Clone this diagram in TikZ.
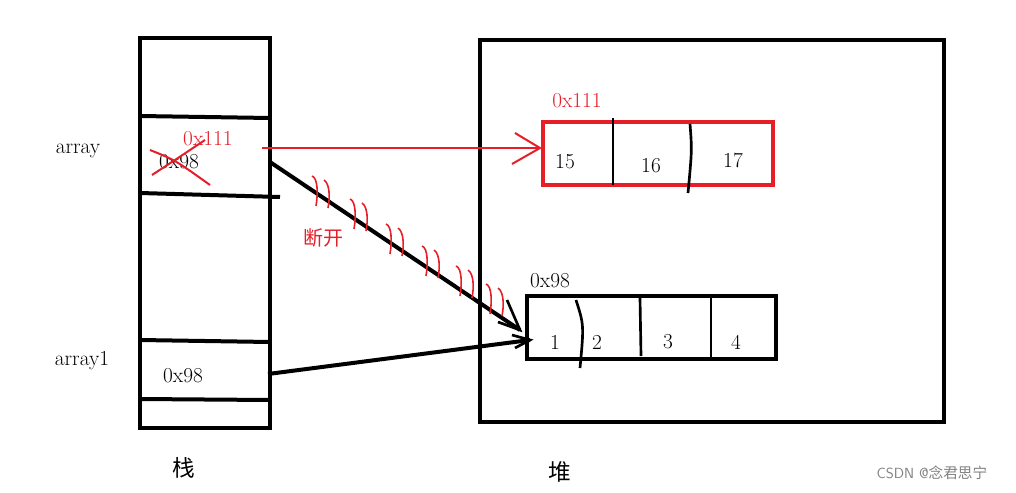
\documentclass[tikz,border=0pt]{standalone}
\usepackage{fontspec}
\newfontfamily\cjk{Noto Sans CJK SC}
\definecolor{myred}{RGB}{230,30,40}
\begin{document}
\begin{tikzpicture}[x=0.75pt,y=-0.75pt,
  thickline/.style={line width=3pt},
  lbl/.style={font=\fontsize{16}{18}\selectfont, inner sep=0pt},
  redlbl/.style={lbl, text=myred},
  tick/.style={myred, line width=1.2pt}]
\useasboundingbox (0,0) rectangle (1016,492);
% stack
\draw[thickline] (140,38) rectangle (270,428);
\draw[thickline] (140,116) -- (270,118);
\draw[thickline] (140,193) -- (280,197);
\draw[thickline] (140,340) -- (270,342);
\draw[thickline] (140,399) -- (270,400);
% heap
\draw[thickline] (480,40) rectangle (944,422);
% red box
\draw[myred, line width=3pt] (543,122) rectangle (773,185);
\draw[line width=2pt] (613,118) -- (613,185);
\draw[line width=2pt] (690,124) .. controls (692,150) .. (688,193);
% black box
\draw[thickline] (527,296) rectangle (776,359);
\draw[line width=2pt] (576,300) .. controls (584,325) .. (580,368);
\draw[line width=2pt] (640,298) -- (641,356);
\draw[line width=2pt] (711,298) -- (711,358);
% labels
\node[lbl] (a) at (78,151) {array};
\node[lbl] (a1) at (82,361) {array1};
\node[lbl] (old) at (179,162) {0x98};
\draw[myred, line width=1.5pt] (150,150) .. controls (175,160) .. (210,185);
\draw[myred, line width=1.5pt] (152,175) .. controls (175,160) .. (205,140);
\node[redlbl] (new) at (208,139) {0x111};
\node[lbl] (v2) at (183,376) {0x98};
\node[redlbl] (h1) at (577,101) {0x111};
\node[lbl] (h2) at (550,281) {0x98};
\node[lbl] at (565,162) {15};
\node[lbl] at (651,166) {16};
\node[lbl] at (733,160) {17};
\node[lbl] at (555,342) {1};
\node[lbl] at (597,342) {2};
\node[lbl] at (668,342) {3};
\node[lbl] at (736,342) {4};
\node[lbl, font=\cjk\fontsize{17}{19}\selectfont] at (184,468) {栈};
\node[lbl, font=\cjk\fontsize{17}{19}\selectfont] at (560,472) {堆};
\node[redlbl, font=\cjk\fontsize{15}{17}\selectfont] at (323,238) {断开};
\node[lbl, text=gray, font=\fontsize{11}{13}\selectfont\sffamily] at (932,473) {CSDN @{\cjk 念君思宁}};
% arrows
\coordinate (s1) at (262,148);
\coordinate (t1) at (540,148);
\draw[myred, line width=1.5pt] (s1) -- (t1);
\draw[myred, line width=1.5pt] (515,133) -- (540,148) -- (512,164);
\coordinate (s2) at (270,162);
\coordinate (t2) at (520,330);
\draw[thickline] (s2) -- (t2);
\draw[line width=2pt] (498,322) -- (520,330) -- (507,300);
\coordinate (s3) at (268,374);
\coordinate (t3) at (530,340);
\draw[thickline] (s3) -- (t3);
\draw[line width=2pt] (512,335) -- (530,340) -- (515,348);
% cut marks
\foreach \x/\y in {318/192,356/215,392/240,428/262,462/282,492/300}{
  \draw[tick] (\x-6,\y-16) .. controls (\x,\y-14) and (\x,\y+2) .. (\x-2,\y+14);
  \draw[tick] (\x+6,\y-12) .. controls (\x+12,\y-8) and (\x+12,\y+6) .. (\x+10,\y+16);
}
\end{tikzpicture}
\end{document}
